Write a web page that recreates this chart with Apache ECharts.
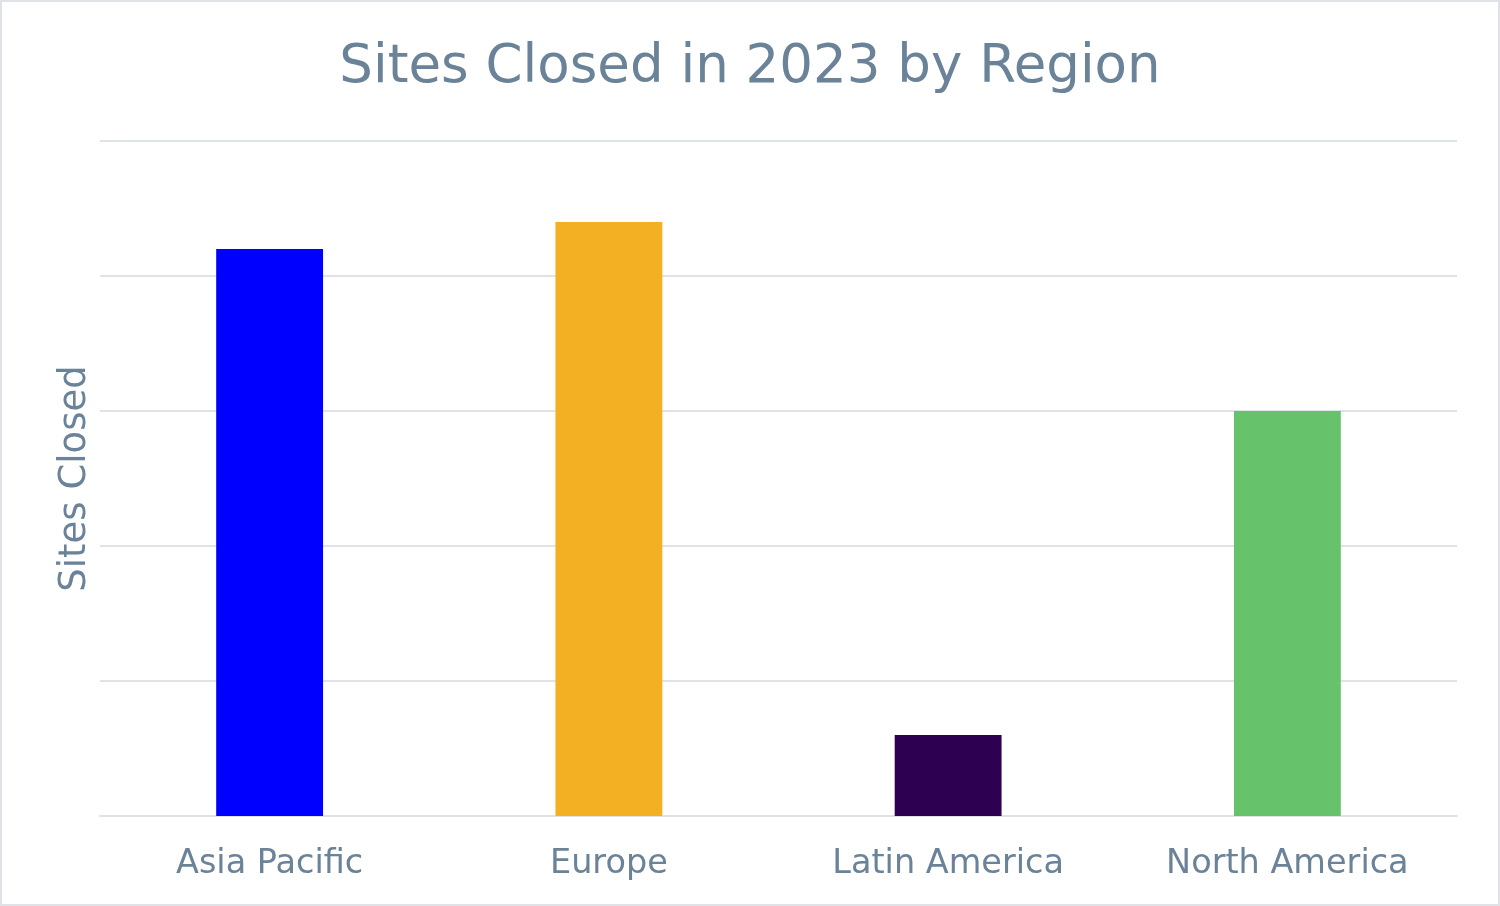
<!DOCTYPE html>
<html>
<head>
<meta charset="utf-8">
<script src="https://cdn.jsdelivr.net/npm/echarts@6/dist/echarts.min.js"></script>
<style>
  html, body { margin: 0; padding: 0; background: #fff; }
  #chart { width: 1500px; height: 906px; box-sizing: border-box; border: 2px solid #dfe3e8; }
</style>
</head>
<body>
<div id="chart"></div>
<script>
const regions = ['Asia Pacific', 'Europe', 'Latin America', 'North America'];
const sitesClosed = [21, 22, 3, 15];
const barColors = ['#0000ff', '#f3b022', '#2e0052', '#66c36b'];

const textColor = '#6a8399';
const gridColor = '#dfe3e8';
const font = 'DejaVu Sans';

const chart = echarts.init(document.getElementById('chart'));
chart.setOption({
  backgroundColor: '#fff',
  animation: false,
  title: {
    text: 'Sites Closed in 2023 by Region',
    left: 'center',
    top: 35,
    textStyle: { color: textColor, fontFamily: font, fontSize: 53, fontWeight: 'normal' }
  },
  grid: { left: 98, right: 41, top: 139, bottom: 88 },
  xAxis: {
    type: 'category',
    data: regions,
    axisLine: { show: true, lineStyle: { color: gridColor, width: 2 } },
    axisTick: { show: false },
    axisLabel: { color: textColor, fontFamily: font, fontSize: 33.5, margin: 31 }
  },
  yAxis: {
    type: 'value',
    min: 0,
    max: 25,
    interval: 5,
    name: 'Sites Closed',
    nameLocation: 'middle',
    nameGap: 6,
    nameTextStyle: { color: textColor, fontFamily: font, fontSize: 37 },
    axisLine: { show: false },
    axisTick: { show: false },
    axisLabel: { show: false },
    splitLine: { lineStyle: { color: gridColor, width: 2 } }
  },
  series: [{
    type: 'bar',
    barWidth: '31.5%',
    data: sitesClosed.map((v, i) => ({ value: v, itemStyle: { color: barColors[i] } }))
  }]
});
</script>
</body>
</html>
